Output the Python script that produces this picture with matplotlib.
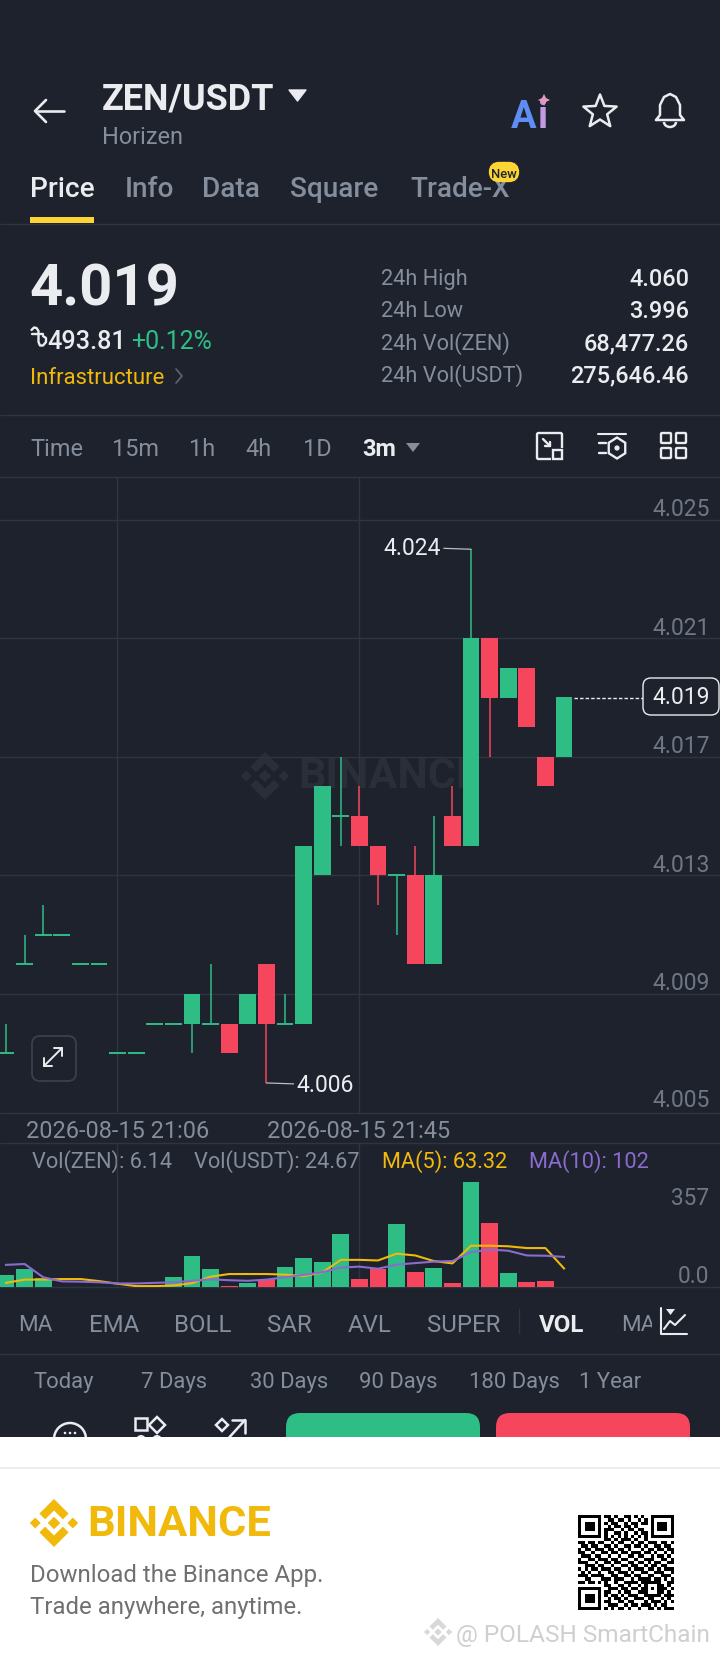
import numpy as np
import matplotlib
matplotlib.use('Agg')
import matplotlib.pyplot as plt
from matplotlib.patches import Rectangle, FancyBboxPatch, Polygon, Circle, Arc

# candles
opens = [4.007, 4.010, 4.011, 4.011, 4.010, 4.010, 4.007, 4.007, 4.008, 4.008, 4.008, 4.008, 4.008, 4.008, 4.010, 4.008,
         4.008, 4.013, 4.015, 4.015, 4.014, 4.013, 4.013, 4.010, 4.015, 4.014, 4.021, 4.019, 4.020, 4.017, 4.017]
closes = [4.007, 4.010, 4.011, 4.011, 4.010, 4.010, 4.007, 4.007, 4.008, 4.008, 4.009, 4.008, 4.007, 4.009, 4.008, 4.008,
          4.014, 4.016, 4.015, 4.014, 4.013, 4.013, 4.010, 4.013, 4.014, 4.021, 4.019, 4.020, 4.018, 4.016, 4.019]
highs = [4.008, 4.011, 4.012, 4.011, 4.010, 4.010, 4.007, 4.007, 4.008, 4.008, 4.009, 4.010, 4.008, 4.009, 4.010, 4.009,
         4.014, 4.016, 4.017, 4.016, 4.014, 4.013, 4.014, 4.015, 4.016, 4.024, 4.021, 4.020, 4.020, 4.017, 4.019]
lows = [4.007, 4.010, 4.011, 4.011, 4.010, 4.010, 4.007, 4.007, 4.008, 4.008, 4.007, 4.008, 4.007, 4.008, 4.006, 4.008,
        4.008, 4.013, 4.014, 4.014, 4.012, 4.011, 4.010, 4.010, 4.014, 4.014, 4.017, 4.019, 4.018, 4.016, 4.017]
volumes = [42, 60, 30, 0, 0, 0, 0, 0, 8, 34, 105, 61, 5, 15, 27, 68, 98, 85, 181, 27, 60, 214, 52, 63, 14, 357, 216, 47, 18, 19, 0]
ma5 = [14, 25, 25, 27, 27, 20, 11, 3, 3, 5, 13, 35, 44, 44, 44, 42, 37, 49, 92, 92, 90, 113, 107, 88, 80, 140, 140, 138, 132, 132, 63]
ma10 = [75, 78, 33, 19, 18, 16, 12, 12, 14, 16, 21, 26, 23, 21, 25, 33, 41, 50, 66, 69, 62, 76, 81, 86, 88, 118, 127, 123, 107, 106, 102]

price_ticks = [4.025, 4.021, 4.017, 4.013, 4.009, 4.005]
price_labels = ['4.025', '4.021', '4.017', '4.013', '4.009', '4.005']
vol_ticks = ['357', '0.0']
time_labels = ['2026-08-15 21:06', '2026-08-15 21:45']
tabs = ['Price', 'Info', 'Data', 'Square', 'Trade-X']
stat_names = ['24h High', '24h Low', '24h Vol(ZEN)', '24h Vol(USDT)']
stat_values = ['4.060', '3.996', '68,477.26', '275,646.46']
frames = ['Time', '15m', '1h', '4h', '1D', '3m']
indicators = ['MA', 'EMA', 'BOLL', 'SAR', 'AVL', 'SUPER', 'VOL', 'MA']
ranges = ['Today', '7 Days', '30 Days', '90 Days', '180 Days', '1 Year']

qr_rows = [
    "11111110110100110101001111111",
    "10000010011011010010101000001",
    "10111010101100101101101011101",
    "10111010010110110100001011101",
    "10111010111001011011001011101",
    "10000010100110100101101000001",
    "11111110101010101010101111111",
    "00000000110101110100100000000",
    "11011011001011001011011101101",
    "01101100110100110110100110110",
    "10110111011011010001011011011",
    "11001001101101101110110100101",
    "01110110010010011011001011010",
    "10011011101101100100111001101",
    "11100100110110011011010110011",
    "00111011001001101100101101100",
    "10101101110110010111011010111",
    "01010010011011101001100111001",
    "11101111001100110110011001110",
    "00110001110111001011110110101",
    "11011010100100111101111110011",
    "00000000110011010010100011010",
    "11111110011101101101101011101",
    "10000010110010110011100011010",
    "10111010101101011100111110111",
    "10111010010110100111011001010",
    "10111010110011011000101110101",
    "10000010011100101101110101100",
    "11111110101011010010011010111",
]

BG = '#1E222D'
LINE = '#2E3440'
GREY = '#848E9C'
WHITE = '#EAECEF'
GREEN = '#2EBD85'
RED = '#F6465D'
YELLOW = '#F0B90B'
PURPLE = '#8A6BCE'
W, H = 720, 1658

plt.rcParams['font.family'] = ['Roboto', 'Noto Sans', 'DejaVu Sans']

fig = plt.figure(figsize=(W / 100, H / 100), dpi=100, facecolor='white')
ui = fig.add_axes([0, 0, 1, 1], zorder=0)
ui.set_xlim(0, W)
ui.set_ylim(H, 0)
ui.axis('off')
ui.add_patch(Rectangle((0, 0), W, 1438, fc=BG, ec='none', zorder=0))


def t(x, y, s, px, color=GREY, ha='left', weight='normal', zorder=5):
    return ui.text(x, y, s, fontsize=px * 0.72, color=color, ha=ha, va='center_baseline',
                   fontweight=weight, zorder=zorder)


def hline(y, x0=0, x1=W, color=LINE, lw=1.0):
    ui.plot([x0, x1], [y, y], color=color, lw=lw, solid_capstyle='butt', zorder=1)


def stroke(xs, ys, lw=2.0, color=WHITE, zorder=6):
    ui.plot(xs, ys, color=color, lw=lw, solid_capstyle='round', solid_joinstyle='round', zorder=zorder)


def binance_logo(cx, cy, r, color, zorder=3):
    k = r / 23.0
    top = np.array([(0, -23), (14, -9), (8.5, -3.5), (0, -12), (-8.5, -3.5), (-14, -9)]) * k
    ui.add_patch(Polygon(top + [cx, cy], fc=color, ec='none', zorder=zorder))
    ui.add_patch(Polygon(top * [1, -1] + [cx, cy], fc=color, ec='none', zorder=zorder))
    for dx, rad in [(0, 6), (-18, 5.2), (18, 5.2)]:
        d = np.array([(0, -rad), (rad, 0), (0, rad), (-rad, 0)]) * k
        ui.add_patch(Polygon(d + [cx + dx * k, cy], fc=color, ec='none', zorder=zorder))


# header
stroke([36, 64], [112, 112], lw=1.9)
stroke([46, 35, 46], [101, 112, 123], lw=1.9)
t(102, 95, 'ZEN/USDT', 36, WHITE, weight='bold')
ui.add_patch(Polygon([(289, 91), (306, 91), (297.5, 102)], fc=WHITE, ec=WHITE, lw=1, joinstyle='round', zorder=6))
t(102, 135, 'Horizen', 23.5)
t(511, 113, 'A', 38, '#5F8DF5', weight='bold')
t(538, 113, 'i', 38, '#C39AE6', weight='bold')
ui.add_patch(Polygon([(544, 95), (546, 99), (550, 101), (546, 103), (544, 107), (542, 103), (538, 101), (542, 99)],
                     fc='#E39AC0', ec='none', zorder=6))
ang = np.deg2rad(np.arange(0, 361, 36) - 90)
rad = np.where(np.arange(11) % 2 == 0, 17.5, 7.5)
ui.add_patch(Polygon(np.c_[600 + rad * np.cos(ang), 113 + rad * np.sin(ang)], fc='none', ec=WHITE, lw=1.8,
                     joinstyle='round', zorder=6))
stroke([656, 660, 660, 664, 670, 676, 680, 680, 684, 656],
       [121, 116, 106, 98, 95, 98, 106, 116, 121, 121], lw=1.8)
ui.add_patch(Arc((670, 123), 12, 10, theta1=0, theta2=180, ec=WHITE, lw=1.8, zorder=6))

# tabs
for s, x in zip(tabs, [30.5, 125, 202, 290, 410]):
    t(x, 186, s, 28, WHITE if s == 'Price' else GREY, weight='medium')
ui.add_patch(Rectangle((30, 218), 64, 6, fc='#FCD535', ec='none', zorder=3))
hline(224.5)
ui.add_patch(FancyBboxPatch((493, 167), 22, 12, boxstyle='round,pad=0,rounding_size=6', fc='#FCD535', ec='#FCD535',
                            lw=6, zorder=6))
t(504, 173, 'New', 13, '#1E222D', ha='center', weight='medium', zorder=7)

# ticker block
t(29, 284, '4.019', 58, WHITE, weight='bold')
# no installed family has the taka sign, so it is drawn
stroke([31.5, 34, 36.5, 38.5, 38.5, 40, 43, 46, 46, 43], [331, 328.5, 329, 332, 343, 346.5, 346.5, 343, 339, 337], lw=1.7)
stroke([32, 43], [335, 335], lw=1.7)
t(47, 339, '493.81', 25.3, WHITE, weight='medium')
t(131, 339, '+0.12%', 25, GREEN)
t(29.5, 376, 'Infrastructure', 22.2, YELLOW)
stroke([176, 182, 176], [370, 377, 384], lw=1.2, color='#5E6673')
for i, (name, value) in enumerate(zip(stat_names, stat_values)):
    y = 277 + 32 * i
    t(381, y, name, 21.8)
    t(689, y, value, 23.5, WHITE, ha='right', weight='medium')
hline(416)

# timeframe row
for s, x in zip(frames, [30, 112, 189, 245, 303, 362.5]):
    t(x, 447, s, 23.5, WHITE if s == '3m' else GREY, weight='bold' if s == '3m' else 'normal')
ui.add_patch(Polygon([(406, 444), (420, 444), (413, 453)], fc=GREY, ec='none', zorder=6))
ui.add_patch(FancyBboxPatch((537, 434), 25, 26, boxstyle='round,pad=0,rounding_size=1.5', fc='none', ec=WHITE, lw=1.7, zorder=6))
ui.add_patch(Rectangle((551, 449), 14, 14, fc=BG, ec='none', zorder=7))
ui.add_patch(Rectangle((553, 451), 9, 9, fc='none', ec=WHITE, lw=1.7, zorder=8))
stroke([543, 550], [440, 447], lw=1.7)
stroke([550, 550, 545], [443, 447, 447], lw=1.7)
stroke([598, 626], [435, 435], lw=1.5)
stroke([599, 606], [444, 444], lw=1.7)
stroke([599, 606], [454, 454], lw=1.7)
a6 = np.deg2rad(np.arange(0, 360, 60) - 90)
ui.add_patch(Polygon(np.c_[617 + 9.5 * np.cos(a6), 449 + 10.5 * np.sin(a6)], fc='none', ec=WHITE, lw=1.7, zorder=6))
ui.add_patch(Circle((617, 449), 2.6, fc=WHITE, ec='none', zorder=6))
for gx in (661, 676):
    for gy in (434, 449):
        ui.add_patch(FancyBboxPatch((gx, gy), 10, 10, boxstyle='round,pad=0,rounding_size=1', fc='none', ec=WHITE, lw=1.7, zorder=6))
hline(478)

# pane lines and texts sitting outside the pane axes
hline(1113.6)
hline(1144.3)
for s, x in zip(time_labels, [117.5, 359]):
    t(x, 1129, s, 23.5, GREY, ha='center')
t(32, 1159, 'Vol(ZEN): 6.14', 21.8)
t(193.6, 1159, 'Vol(USDT): 24.67', 21.8)
t(382, 1159, 'MA(5): 63.32', 21.8, YELLOW)
t(529, 1159, 'MA(10): 102', 21.8, PURPLE)

# price pane, 478..1113.6 px
price_ax = fig.add_axes([0, 1 - 1113.6 / H, 1, (1113.6 - 478) / H], zorder=2)
price_ax.patch.set_alpha(0)
xlim = (-6 / 18.6, (W - 6) / 18.6)
price_ax.set_xlim(xlim)
price_ax.set_ylim(4.005, 4.005 + (1113.6 - 478) / 29.65 / 1000)
for s in price_ax.spines.values():
    s.set_visible(False)
price_ax.set_xticks([])
price_ax.set_yticks(price_ticks[:-1])
price_ax.tick_params(left=False, labelleft=False)
price_ax.grid(axis='y', color=LINE, lw=1.0)
price_ax.set_axisbelow(True)
grid_x = [(117.2 - 6) / 18.6, (359 - 6) / 18.6]
for gx in grid_x:
    price_ax.axvline(gx, color=LINE, lw=1.0, zorder=0.5)

# watermark stays under the candles
binance_logo(265, 777, 24, '#292E39', zorder=1.5)
ui.text(298, 777, 'BINANCE', fontsize=31, fontweight='bold', color='#292E39', va='center', zorder=1.5)

for i in range(len(opens)):
    color = RED if closes[i] < opens[i] else GREEN
    price_ax.plot([i, i], [lows[i], highs[i]], color=color, lw=1.1, solid_capstyle='butt', zorder=3)
    if opens[i] == closes[i]:
        price_ax.plot([i - 0.45, i + 0.45], [opens[i], opens[i]], color=color, lw=1.4, solid_capstyle='butt', zorder=3)
    else:
        price_ax.bar(i, abs(closes[i] - opens[i]), bottom=min(opens[i], closes[i]), width=0.9, color=color, lw=0, zorder=3)

for tick, label in zip(price_ticks, price_labels):
    off = 13 if tick == 4.005 else 11
    price_ax.annotate(label, xy=(1, tick), xycoords=('axes fraction', 'data'), xytext=(-10, off),
                      textcoords='offset pixels', ha='right', va='center', fontsize=16.5, color='#6F7785', zorder=5)

hi_i = int(np.argmax(highs))
lo_i = int(np.argmin(lows))
price_ax.annotate('4.024', xy=(hi_i, highs[hi_i]), xytext=(-30, 2), textcoords='offset pixels', ha='right', va='center',
                  fontsize=16.5, color=WHITE, arrowprops=dict(arrowstyle='-', color='#B7BDC6', lw=0.9, shrinkA=0, shrinkB=0), zorder=5)
price_ax.annotate('4.006', xy=(lo_i, lows[lo_i]), xytext=(30, -2), textcoords='offset pixels', ha='left', va='center',
                  fontsize=16.5, color=WHITE, arrowprops=dict(arrowstyle='-', color='#B7BDC6', lw=0.9, shrinkA=0, shrinkB=0), zorder=5)

# last price tag
price_ax.plot([len(closes) - 0.45, (643 - 6) / 18.6], [closes[-1], closes[-1]], color=WHITE, lw=1.0, ls=(0, (2.5, 1.5)), zorder=3)
top = fig.add_axes([0, 0, 1, 1], zorder=4)
top.set_xlim(0, W)
top.set_ylim(H, 0)
top.axis('off')
top.add_patch(FancyBboxPatch((643, 679), 76, 37, boxstyle='round,pad=0,rounding_size=8', fc=BG, ec=WHITE, lw=1.0))
top.text(681, 697.5, '4.019', fontsize=16.5, color=WHITE, ha='center', va='center')
top.add_patch(FancyBboxPatch((32, 1037), 44, 45, boxstyle='round,pad=0,rounding_size=8', fc=BG, ec='#3A404C', lw=1.3))
for xs, ys in [([44, 62], [1067, 1049]), ([44, 44, 52], [1059, 1067, 1067]), ([54, 62, 62], [1049, 1049, 1057])]:
    top.plot(xs, ys, color=WHITE, lw=1.4, solid_capstyle='round')

# volume pane, 1144.3..1288 px
vol_ax = fig.add_axes([0, 1 - 1288 / H, 1, (1288 - 1144.3) / H], zorder=2)
vol_ax.patch.set_alpha(0)
vol_ax.set_xlim(xlim)
vol_ax.set_ylim(0, (1288 - 1144.3) / 105.3 * 357)
vol_ax.axis('off')
for gx in grid_x:
    vol_ax.axvline(gx, color=LINE, lw=1.0, zorder=0.5)
idx = np.arange(len(volumes))
vol_colors = [RED if c < o else GREEN for o, c in zip(opens, closes)]
vol_ax.bar(idx, volumes, width=0.9, color=vol_colors, lw=0, zorder=2)
vol_ax.plot(idx, ma5, color=YELLOW, lw=1.5, zorder=3)
vol_ax.plot(idx, ma10, color=PURPLE, lw=1.5, zorder=3)
t(709, 1196, vol_ticks[0], 22.6, '#6F7785', ha='right')
t(709, 1274, vol_ticks[1], 22.6, '#6F7785', ha='right')
hline(1288)

# indicator row
for s, x in zip(indicators, [18.4, 89, 174, 267, 348, 427, 539, 621]):
    t(x, 1323, s, 24 if s != 'MA' else 22.5, WHITE if s == 'VOL' else GREY, weight='bold' if s == 'VOL' else 'normal')
hline(1355)
ui.plot([519, 519], [1310, 1334], color=LINE, lw=1.0, zorder=1)
ui.add_patch(Rectangle((652, 1305), 50, 36, fc=BG, ec='none', zorder=5.5))
stroke([661, 661, 687], [1309, 1335, 1335], lw=1.5)
stroke([664, 670, 675, 685], [1330, 1322, 1326, 1316], lw=1.5)
ui.add_patch(Polygon([(666, 1310), (675, 1310), (670.5, 1316)], fc=WHITE, ec='none', zorder=6))

for s, x in zip(ranges, [33, 141, 250, 359, 469, 579]):
    t(x, 1380, s, 22, GREY)

# bottom bar, cut off by the white footer
ui.add_patch(Circle((70, 1440), 16, fc='none', ec=WHITE, lw=1.8, zorder=2))
for dx in (-5, 0, 5):
    ui.add_patch(Circle((70 + dx, 1434), 1.3, fc=WHITE, ec='none', zorder=2))
ui.add_patch(Rectangle((135, 1419), 12, 12, fc='none', ec=WHITE, lw=1.8, zorder=2))
ui.add_patch(Polygon([(157, 1418), (165, 1426), (157, 1434), (149, 1426)], fc='none', ec=WHITE, lw=1.8, zorder=2))
ui.add_patch(Circle((141, 1441), 5, fc=WHITE, ec='none', zorder=2))
ui.add_patch(Circle((157, 1441), 5, fc=WHITE, ec='none', zorder=2))
ui.add_patch(Polygon([(222, 1420), (228, 1426), (222, 1432), (216, 1426)], fc='none', ec=WHITE, lw=1.8, zorder=2))
stroke([226, 245], [1442, 1421], lw=1.8, zorder=2)
stroke([232, 245, 245], [1421, 1421, 1434], lw=1.8, zorder=2)
ui.add_patch(FancyBboxPatch((286, 1414), 194, 60, boxstyle='round,pad=0,rounding_size=14', fc=GREEN, ec='none', zorder=2))
ui.add_patch(FancyBboxPatch((496, 1414), 194, 60, boxstyle='round,pad=0,rounding_size=14', fc=RED, ec='none', zorder=2))

# footer
ui.add_patch(Rectangle((0, 1438), W, H - 1438, fc='white', ec='none', zorder=3))
ui.plot([0, W], [1469, 1469], color='#EEEEEE', lw=1.5, zorder=4)
binance_logo(54, 1524, 24, YELLOW, zorder=4)
ui.text(87, 1525, 'BINANCE', fontsize=31.3, fontweight='bold', color=YELLOW, va='center', zorder=4)
t(30, 1573, 'Download the Binance App.', 24, '#707070')
t(30, 1605, 'Trade anywhere, anytime.', 24, '#707070')
qr = np.array([[1 - int(c) for c in row] for row in qr_rows])
ui.imshow(qr, cmap='gray', vmin=0, vmax=1, extent=(577.6, 673, 1611, 1516), interpolation='nearest', zorder=4, aspect='auto')
ui.set_xlim(0, W)
ui.set_ylim(H, 0)
binance_logo(438, 1633, 14, '#D8D8D8', zorder=6)
t(456, 1633, '@ POLASH SmartChain', 24.4, '#CFCFCF', zorder=6)

fig.savefig('out.png', dpi=100, facecolor='white')
